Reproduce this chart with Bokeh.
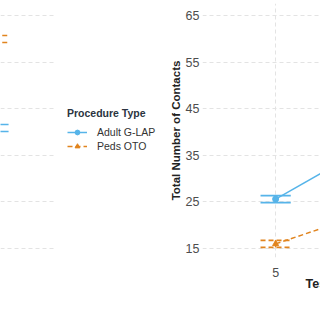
from bokeh.plotting import figure
from bokeh.layouts import row
from bokeh.models import FixedTicker, Legend, LegendItem, Range1d, Title
from bokeh.embed import file_html
from bokeh.resources import INLINE

# Procedure groups and their styles
procedures = ["Adult G-LAP", "Peds OTO"]
colors = ["#56B4E9", "#E1841E"]
dashes = ["solid", "5 3"]
markers = ["circle", "triangle"]

# Right panel: total contacts by test number (mean and standard error)
test_numbers = [5, 10]
contacts_mean = {"Adult G-LAP": [25.6, 40.5], "Peds OTO": [16.0, 24.8]}
contacts_se = {"Adult G-LAP": [0.75, 0.75], "Peds OTO": [0.75, 0.75]}

# Left panel: last test number shown in that panel
left_numbers = [20]
left_mean = {"Adult G-LAP": [40.85], "Peds OTO": [59.95]}
left_se = {"Adult G-LAP": [0.75], "Peds OTO": [0.75]}

y_ticks = [15, 25, 35, 45, 55, 65]
x_ticks = [5, 10, 15, 20]

FONT = "Liberation Sans"
GRID = "#e3e3e3"
Y_RANGE = (13.07, 67.58)
CAP = 0.62  # half width of the error bar caps, in x units
BORDERS = dict(min_border_right=0, min_border_top=3, min_border_bottom=63)


def style_plot(p):
    p.outline_line_color = None
    p.background_fill_color = "white"
    p.border_fill_color = "white"
    for g in (p.xgrid, p.ygrid):
        g.grid_line_color = GRID
        g.grid_line_dash = "4 3"
        g.grid_line_width = 1


def draw_series(p, xs, means, ses):
    rends = {}
    for name, col, dash, mk in zip(procedures, colors, dashes, markers):
        m = means[name]
        s = ses[name]
        lo = [a - b for a, b in zip(m, s)]
        hi = [a + b for a, b in zip(m, s)]
        x0 = [x - CAP for x in xs]
        x1 = [x + CAP for x in xs]
        p.segment(x0=x0, x1=x1, y0=hi, y1=hi, line_color=col, line_width=1.6, line_dash=dash)
        p.segment(x0=x0, x1=x1, y0=lo, y1=lo, line_color=col, line_width=1.6, line_dash=dash)
        p.segment(x0=xs, x1=xs, y0=lo, y1=hi, line_color=col, line_width=1.6)
        ln = p.line(xs, m, line_color=col, line_width=1.5, line_dash=dash)
        sc = p.scatter(xs, m, marker=mk, size=6, fill_color=col, line_color=col)
        rends[name] = [ln, sc]
    return rends


# ---- left panel (its data lies just past the left edge) ----
left = figure(width=56, height=320, output_backend="svg", toolbar_location=None,
              x_range=Range1d(20.29, 22.58), y_range=Range1d(*Y_RANGE),
              x_axis_location=None, y_axis_location=None,
              min_border_left=0, **BORDERS)
style_plot(left)
left.xgrid.ticker = FixedTicker(ticks=x_ticks)
left.ygrid.ticker = FixedTicker(ticks=y_ticks)
draw_series(left, left_numbers, left_mean, left_se)

# ---- legend column ----
mid = figure(width=104, height=320, output_backend="svg", toolbar_location=None,
             x_range=Range1d(100, 101), y_range=Range1d(*Y_RANGE),
             x_axis_location=None, y_axis_location=None,
             min_border_left=11, **BORDERS)
mid.outline_line_color = None
mid.xgrid.visible = False
mid.ygrid.visible = False
mid_r = draw_series(mid, left_numbers, left_mean, left_se)

legend = Legend(items=[LegendItem(label=n, renderers=mid_r[n]) for n in procedures],
                title="Procedure Type", location=(0, 105))
legend.title_text_font = FONT
legend.title_text_font_style = "bold"
legend.title_text_font_size = "10.5px"
legend.title_text_color = "#2b3440"
legend.title_standoff = 7
legend.label_text_font = FONT
legend.label_text_font_size = "10.5px"
legend.label_text_color = "#333333"
legend.glyph_width = 20
legend.glyph_height = 12
legend.label_standoff = 10
legend.spacing = 2
legend.padding = 4
legend.margin = 0
legend.border_line_color = None
legend.background_fill_alpha = 0
mid.add_layout(legend)

# ---- right panel ----
right = figure(width=160, height=320, output_backend="svg", toolbar_location=None,
               x_range=Range1d(2.0, 6.84), y_range=Range1d(*Y_RANGE),
               min_border_left=42, **BORDERS)
style_plot(right)
draw_series(right, test_numbers, contacts_mean, contacts_se)

right.xaxis.ticker = FixedTicker(ticks=x_ticks)
right.yaxis.ticker = FixedTicker(ticks=y_ticks)
for ax in (right.xaxis[0], right.yaxis[0]):
    ax.axis_line_color = None
    ax.major_tick_line_color = None
    ax.minor_tick_line_color = None
    ax.major_tick_out = 0
    ax.major_tick_in = 0
    ax.minor_tick_out = 0
    ax.major_label_text_font = FONT
    ax.major_label_text_font_size = "12.5px"
    ax.major_label_text_color = "#4d4d4d"
    ax.major_label_standoff = 3
right.xaxis.major_label_standoff = 10
right.yaxis.axis_label = "Total Number of Contacts"
right.yaxis.axis_label_text_font = FONT
right.yaxis.axis_label_text_font_style = "bold"
right.yaxis.axis_label_text_font_size = "11.5px"
right.yaxis.axis_label_text_color = "#222222"
right.yaxis.axis_label_standoff = 1

right.add_layout(Title(text="Test Number", align="left", offset=103,
                       text_font=FONT, text_font_style="bold", text_font_size="12.5px",
                       text_color="#222222", standoff=-9), "below")

layout = row(left, mid, right)
open("out.html", "w").write(file_html(layout, INLINE))
